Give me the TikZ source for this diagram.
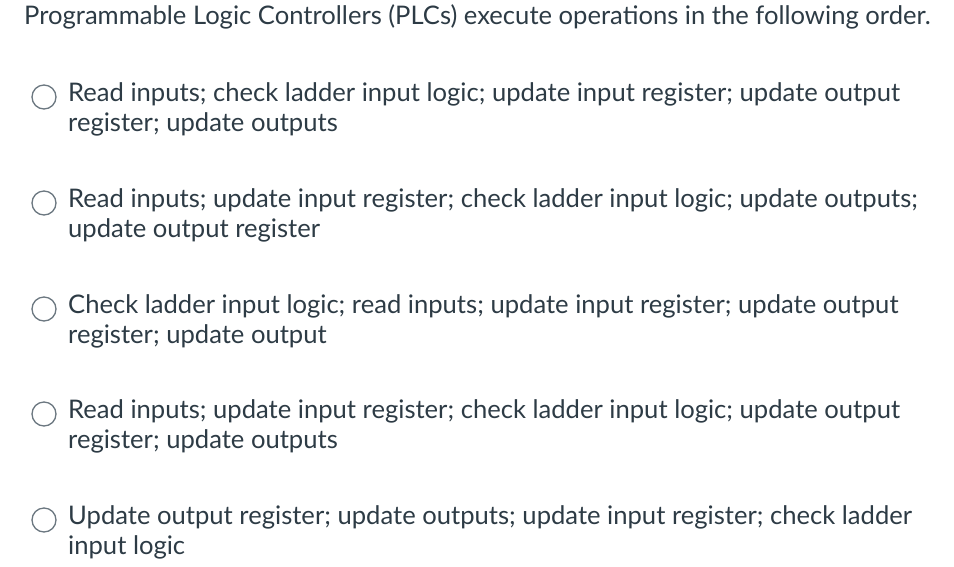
\documentclass[tikz,border=0pt]{standalone}
\usepackage{fontspec}
\setmainfont{Lato}
\definecolor{txt}{HTML}{2D3B45}
\definecolor{circ}{HTML}{6B7780}
\begin{document}
\begin{tikzpicture}[x=1pt,y=-1pt,
  lbl/.style={anchor=north west,inner sep=0pt,text=txt,font=\fontsize{25.6}{30}\selectfont,align=left},
  radio/.style={circle,draw=circ,line width=1.3pt,minimum size=24pt,inner sep=0pt}]
\useasboundingbox (0,0) rectangle (954,566);
\node[lbl] (title) at (24,4) {Programmable Logic Controllers (PLCs) execute operations in the following order.};
\foreach \i/\y/\t in {
 1/82/{Read inputs; check ladder input logic; update input register; update output\\register; update outputs},
 2/188/{Read inputs; update input register; check ladder input logic; update outputs;\\update output register},
 3/294/{Check ladder input logic; read inputs; update input register; update output\\register; update output},
 4/399/{Read inputs; update input register; check ladder input logic; update output\\register; update outputs},
 5/505/{Update output register; update outputs; update input register; check ladder\\input logic}}{
  \node[radio] (r\i) at (44,\y+15) {};
  \node[lbl] (o\i) at (68,\y) {\t};
}
\end{tikzpicture}
\end{document}
